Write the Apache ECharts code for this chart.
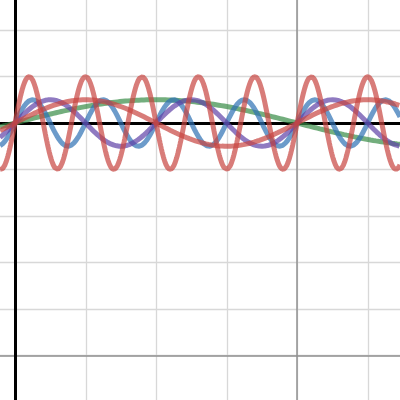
<!DOCTYPE html>
<html><head><meta charset="utf-8">
<script src="https://cdn.jsdelivr.net/npm/echarts@6/dist/echarts.min.js"></script>
<style>html,body{margin:0;padding:0;background:#fff}#c{width:400px;height:400px}</style>
</head><body><div id="c"></div>
<script>
// Curves: y = amplitude * sin(frequency * x)
const curveNames = ['green', 'blue', 'purple', 'redSlow', 'redFast'];
const amplitudes = [0.5, 0.5, 0.5, 0.5, 1.0];
const frequencies = [1, 8, 4, 2, 10];
const colors = ['#388c46', '#2d70b3', '#6042a6', '#c74440', '#c74440'];
const minorX = [-Math.PI/4, 0, Math.PI/4, Math.PI/2, 3*Math.PI/4, Math.PI, 5*Math.PI/4, 3*Math.PI/2];
const majorX = [Math.PI];
const minorY = [-6, -5, -4, -3, -2, -1, 0, 1, 2];
const majorY = [-5];
const xMin = -0.167, xMax = 4.287, yMin = -5.957, yMax = 2.645;

const N = 600;
const series = curveNames.map((n, i) => {
  const data = [];
  for (let k = 0; k <= N; k++) {
    const x = xMin + (xMax - xMin) * k / N;
    data.push([x, amplitudes[i] * Math.sin(frequencies[i] * x)]);
  }
  return {type: 'line', name: n, data, showSymbol: false, smooth: false, z: 10 + i,
    lineStyle: {color: colors[i], width: 5, opacity: 0.7}, silent: true};
});
const ml = (arr, axis, color, width) => arr.map(v => ({[axis]: v, lineStyle: {color, width, type: 'solid'}}));
series.unshift({type: 'line', data: [], silent: true, z: 1,
  markLine: {symbol: 'none', label: {show: false}, silent: true, animation: false,
    data: [].concat(ml(minorX, 'xAxis', '#d8d8d8', 1.3), ml(minorY, 'yAxis', '#d8d8d8', 1.3),
      ml(majorX, 'xAxis', '#909090', 1.5), ml(majorY, 'yAxis', '#909090', 1.5))}});
series.push({type: 'line', data: [], silent: true, z: 5,
  markLine: {symbol: 'none', label: {show: false}, silent: true, animation: false,
    data: [{xAxis: 0, lineStyle: {color: '#000', width: 3, type: 'solid'}},
           {yAxis: 0, lineStyle: {color: '#000', width: 3, type: 'solid'}}]}});

const chart = echarts.init(document.getElementById('c'));
chart.setOption({
  animation: false,
  grid: {left: 0, right: 0, top: 0, bottom: 0},
  xAxis: {type: 'value', min: xMin, max: xMax, show: false, splitLine: {show: false}},
  yAxis: {type: 'value', min: yMin, max: yMax, show: false, splitLine: {show: false}},
  series
});
</script></body></html>
